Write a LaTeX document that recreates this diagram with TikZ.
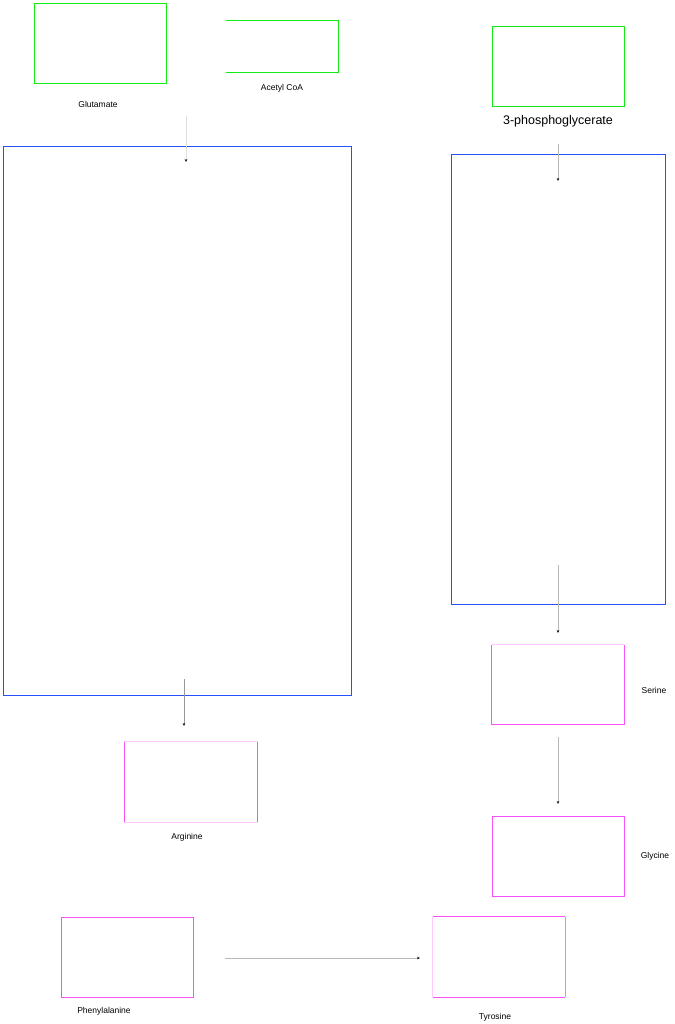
\documentclass[tikz,border=0pt]{standalone}
\usepackage{fontspec}
\setmainfont{Liberation Sans}
\usetikzlibrary{arrows.meta}
\definecolor{bgreen}{RGB}{20,235,20}
\definecolor{bblue}{RGB}{40,80,250}
\definecolor{bmag}{RGB}{250,80,250}
\definecolor{lmag}{RGB}{255,200,255}
\tikzset{
  box/.style={rectangle, inner sep=0pt, line width=0.9pt},
  gbox/.style={box, draw=bgreen},
  bbox/.style={box, draw=bblue},
  mbox/.style={box, draw=bmag},
  lbl/.style={font=\fontsize{8.5}{10}\selectfont, inner sep=0pt},
  conn/.style={draw=gray!55, line width=0.8pt, -{Stealth[length=3pt,width=2.5pt,color=black]}},
}
\begin{document}
\begin{tikzpicture}[x=1pt,y=-1pt]
\useasboundingbox (0,0) rectangle (674,1024);
% top boxes
\node[gbox, minimum width=132pt, minimum height=80pt] (glu) at (100,43) {};
\node[lbl] (glul) at (98,104) {Glutamate};
\node[box, minimum width=112pt, minimum height=51pt] (acoa) at (282,46.5) {};
\draw[bgreen, line width=0.9pt] (acoa.north west) -- (acoa.north east) -- (acoa.south east) -- (acoa.south west);
\node[lbl] (acoal) at (282,88) {Acetyl CoA};
\node[gbox, minimum width=132pt, minimum height=80pt] (pg) at (558,66) {};
\node[lbl, font=\fontsize{12.5}{14}\selectfont] (pgl) at (558,121) {3-phosphoglycerate};
% big boxes
\node[bbox, minimum width=348pt, minimum height=549pt] (lbig) at (177,420.5) {};
\node[bbox, minimum width=214pt, minimum height=450pt] (rbig) at (558,379) {};
% right column
\node[box, minimum width=132pt, minimum height=79pt] (ser) at (558,684.5) {};
\draw[bmag, line width=0.9pt] (ser.north west) -- (ser.south west) -- (ser.south east) -- (ser.north east);
\draw[lmag, line width=0.9pt] (ser.north west) -- (ser.north east);
\node[lbl] (serl) at (654,690) {Serine};
\node[mbox, minimum width=132pt, minimum height=80pt] (gly) at (558,856) {};
\node[lbl] (glyl) at (655,856) {Glycine};
% arginine
\node[box, minimum width=132pt, minimum height=80pt] (arg) at (191,782) {};
\draw[lmag, line width=0.9pt] (arg.north west) rectangle (arg.south east);
\draw[bmag, line width=0.9pt] (arg.north west) -- (arg.south west);
\draw[bmag, line width=0.9pt] (arg.north east) -- (arg.south east);
\node[lbl] (argl) at (187,837) {Arginine};
% bottom
\node[mbox, minimum width=132pt, minimum height=80pt] (phe) at (127,957) {};
\node[lbl] (phel) at (104,1011) {Phenylalanine};
\node[box, minimum width=132pt, minimum height=80pt] (tyr) at (499,957) {};
\draw[bmag, line width=0.9pt] (tyr.north west) -- (tyr.north east);
\draw[bmag, line width=0.9pt] (tyr.south west) -- (tyr.south east);
\draw[lmag, line width=0.9pt] (tyr.north west) -- (tyr.south west);
\draw[bmag!70!lmag, line width=0.9pt] (tyr.north east) -- (tyr.south east);
\node[lbl] (tyrl) at (495,1017) {Tyrosine};
% connector ends
\coordinate (c1a) at (186,116); \coordinate (c1b) at (186,162);
\coordinate (c2a) at (558,144); \coordinate (c2b) at (558,181);
\coordinate (c3a) at (184,679); \coordinate (c3b) at (184,726);
\coordinate (c4a) at (558,565); \coordinate (c4b) at (558,633);
\coordinate (c5a) at (558,737); \coordinate (c5b) at (558,804);
\coordinate (c6a) at (225,958); \coordinate (c6b) at (420,958);
\draw[conn, draw=gray!25] (c1a) -- (c1b);
\draw[conn] (c2a) -- (c2b);
\draw[conn, draw=gray!80] (c3a) -- (c3b);
\draw[conn] (c4a) -- (c4b);
\draw[conn] (c5a) -- (c5b);
\draw[conn] (c6a) -- (c6b);
\end{tikzpicture}
\end{document}
